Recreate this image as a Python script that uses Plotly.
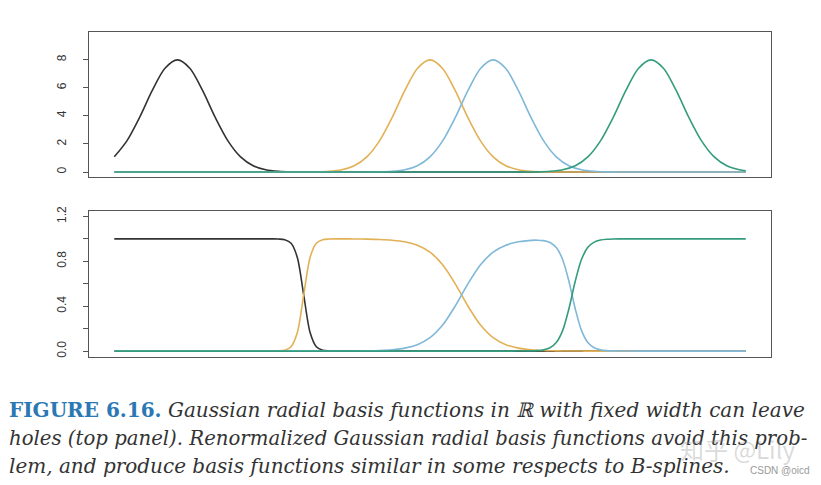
import plotly.graph_objects as go

# painel de cima: gaussianas com largura fixa
x_top = [0.00, 0.02, 0.04, 0.06, 0.08, 0.10, 0.12, 0.14, 0.16, 0.18,
         0.20, 0.22, 0.24, 0.26, 0.28, 0.30, 0.32, 0.34, 0.36, 0.38,
         0.40, 0.42, 0.44, 0.46, 0.48, 0.50, 0.52, 0.54, 0.56, 0.58,
         0.60, 0.62, 0.64, 0.66, 0.68, 0.70, 0.72, 0.74, 0.76, 0.78,
         0.80, 0.82, 0.84, 0.86, 0.88, 0.90, 0.92, 0.94, 0.96, 0.98, 1.00]

preto_top = [1.08, 2.22, 3.88, 5.79, 7.37, 7.98, 7.37, 5.79, 3.88, 2.22,
             1.08, 0.45, 0.16, 0.05, 0.01] + [0] * 36
laranja_top = [0] * 16 + [0.01, 0.05, 0.16, 0.45, 1.08, 2.22, 3.88, 5.79, 7.37, 7.98,
                          7.37, 5.79, 3.88, 2.22, 1.08, 0.45, 0.16, 0.05, 0.01] + [0] * 16
azul_top = [0] * 21 + [0.01, 0.05, 0.16, 0.45, 1.08, 2.22, 3.88, 5.79, 7.37, 7.98,
                       7.37, 5.79, 3.88, 2.22, 1.08, 0.45, 0.16, 0.05, 0.01] + [0] * 11

# a verde tem o pico em 0.85, fora da grade acima
x_verde_top = [0.00, 0.65, 0.67, 0.69, 0.71, 0.73, 0.75, 0.77, 0.79, 0.81,
               0.83, 0.85, 0.87, 0.89, 0.91, 0.93, 0.95, 0.97, 0.99, 1.00]
verde_top = [0, 0, 0.01, 0.05, 0.16, 0.45, 1.08, 2.22, 3.88, 5.79,
             7.37, 7.98, 7.37, 5.79, 3.88, 2.22, 1.08, 0.45, 0.16, 0.09]

# painel de baixo: gaussianas renormalizadas
x_bot = [0.00, 0.05, 0.10, 0.15, 0.20, 0.22, 0.24, 0.25, 0.26, 0.27,
         0.28, 0.29, 0.30, 0.31, 0.32, 0.33, 0.34, 0.35, 0.36, 0.38,
         0.40, 0.42, 0.44, 0.46, 0.48, 0.50, 0.52, 0.54, 0.56, 0.58,
         0.60, 0.62, 0.64, 0.66, 0.67, 0.68, 0.69, 0.70, 0.71, 0.72,
         0.73, 0.74, 0.75, 0.76, 0.77, 0.78, 0.79, 0.80, 0.82, 0.84,
         0.86, 0.90, 0.95, 1.00]

preto_bot = [1, 1, 1, 1, 1, 1, 0.9999, 0.9997, 0.9983, 0.9919,
             0.9608, 0.8320, 0.5, 0.168, 0.0392, 0.0081, 0.0017, 0.0003, 0.0001] + [0] * 35
laranja_bot = ([0, 0, 0, 0, 0, 0, 0.0001, 0.0003, 0.0017, 0.0081,
                0.0392, 0.168, 0.5, 0.832, 0.9608, 0.9918, 0.9981, 0.9994, 0.9994]
               + [0.9989, 0.9975, 0.9945, 0.9879, 0.9734, 0.9427, 0.8808, 0.7685, 0.5987, 0.4013,
                  0.2315, 0.1192, 0.0573, 0.0266]
               + [0.0121, 0.0081, 0.0054, 0.0036, 0.0023, 0.0014, 0.0007, 0.0003, 0.0001]
               + [0] * 12)
azul_bot = ([0] * 15 + [0.0001, 0.0002, 0.0003, 0.0005]
            + [0.0011, 0.0025, 0.0055, 0.0121, 0.0266, 0.0573, 0.1192, 0.2315, 0.4013, 0.5987,
               0.7685, 0.8808, 0.9427, 0.9732]
            + [0.9864, 0.9879, 0.9837, 0.9671, 0.9220, 0.8164, 0.6220, 0.3775, 0.1824, 0.0759,
               0.0293, 0.0110, 0.0041, 0.0015, 0.0006]
            + [0.0001, 0, 0, 0, 0, 0])
verde_bot = ([0] * 32 + [0.0002]
             + [0.0015, 0.0040, 0.0109, 0.0292, 0.0757, 0.1822, 0.3773, 0.6222, 0.8175, 0.9241,
                0.9707, 0.9890, 0.9959, 0.9985, 0.9994]
             + [0.9999, 1, 1, 1, 1, 1])

ticks_top = [0, 2, 4, 6, 8]
ticks_bot = [0, 0.2, 0.4, 0.6, 0.8, 1.0, 1.2]
ticks_bot_txt = ["0.0", "", "0.4", "", "0.8", "", "1.2"]

cores = ['#333333', '#e2b156', '#7fb8d8', '#349c7e']

legenda = [
    "<span style='color:#2a78b4'><b>FIGURE 6.16.</b></span> <i>Gaussian radial basis functions in ℝ with fixed width can leave</i>",
    "<i>holes (top panel). Renormalized Gaussian radial basis functions avoid this prob-</i>",
    "<i>lem, and produce basis functions similar in some respects to B-splines.</i>",
]
tam_legenda = [20, 19.7, 20]

W, H = 821, 485
OFF = 8  # margem do body da pagina html


def px_x(p):
    return (p - OFF) / W


def px_y(p):
    return 1 - (p - OFF) / H


fig = go.Figure()

x_series_top = [x_top, x_top, x_top, x_verde_top]
for xs, ys, cor in zip(x_series_top, [preto_top, laranja_top, azul_top, verde_top], cores):
    fig.add_trace(go.Scatter(x=xs, y=ys, mode='lines', xaxis='x', yaxis='y',
                             line=dict(color=cor, width=1.6, shape='spline', smoothing=0.8),
                             showlegend=False, hoverinfo='skip'))

for ys, cor in zip([preto_bot, laranja_bot, azul_bot, verde_bot], cores):
    fig.add_trace(go.Scatter(x=x_bot, y=ys, mode='lines', xaxis='x2', yaxis='y2',
                             line=dict(color=cor, width=1.6, shape='spline', smoothing=0.8),
                             showlegend=False, hoverinfo='skip'))

eixo_x = dict(range=[-0.04, 1.04], domain=[px_x(89), px_x(771)], showticklabels=False,
              ticks='', showgrid=False, zeroline=False, showline=True, mirror=True,
              linecolor='#555555', linewidth=1)
eixo_y = dict(showgrid=False, zeroline=False, showline=True, mirror=True,
              linecolor='#555555', linewidth=1, ticks='outside', ticklen=5,
              tickcolor='#555555', tickangle=-90, ticklabelstandoff=12,
              tickfont=dict(family='Liberation Sans, Arial', size=12, color='#333333'))

fig.update_layout(
    width=W, height=H,
    margin=dict(l=0, r=0, t=0, b=0),
    paper_bgcolor='white', plot_bgcolor='white',
    xaxis=dict(eixo_x, anchor='y'),
    yaxis=dict(eixo_y, anchor='x', range=[-0.35, 9.98], domain=[px_y(174), px_y(27)],
               tickvals=ticks_top, ticktext=[str(t) for t in ticks_top]),
    xaxis2=dict(eixo_x, anchor='y2'),
    yaxis2=dict(eixo_y, anchor='x2', range=[-0.05, 1.246], domain=[px_y(356), px_y(208.7)],
                tickvals=ticks_bot, ticktext=ticks_bot_txt),
)

for i, linha in enumerate(legenda):
    fig.add_annotation(text=linha, xref='paper', yref='paper', x=px_x(8), y=px_y(410 + 28.5 * i),
                       xanchor='left', yanchor='middle', showarrow=False, borderpad=0,
                       font=dict(family='DejaVu Serif', size=tam_legenda[i], color='#333333'))

fig.add_annotation(text='知乎 @Lily', xref='paper', yref='paper', x=px_x(738), y=px_y(449),
                   xanchor='center', yanchor='middle', showarrow=False,
                   font=dict(family='Noto Sans CJK SC', size=24, color='rgba(150,150,150,0.35)'))
fig.add_annotation(text='CSDN @oicd', xref='paper', yref='paper', x=px_x(780), y=px_y(471),
                   xanchor='center', yanchor='middle', showarrow=False,
                   font=dict(family='Liberation Sans, Arial', size=10, color='#999999'))

fig.write_html("out.html")
